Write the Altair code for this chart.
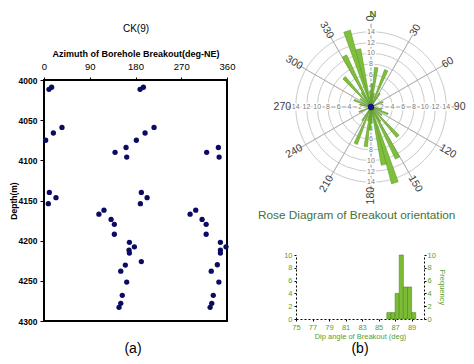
import math
import altair as alt
import pandas as pd

# ---------------- data ----------------
# (a) borehole breakout azimuth (deg from N) vs depth (m)
bo_azimuth = [9.8, 15.0, 189.0, 195.5, 3.3, 18.4, 35.4, 181.7, 198.8, 216.5,
              139.8, 161.4, 162.7, 320.0, 343.0, 344.5,
              10.5, 23.6, 8.5, 191.5, 202.8, 189.6,
              108.0, 118.0, 132.0, 138.4, 138.4, 168.0, 177.8, 167.3, 168.0, 191.5,
              160.0, 151.0, 162.7, 154.0, 151.0, 147.6,
              287.4, 298.5, 311.0, 319.0, 319.0, 347.0, 358.0, 347.0, 347.0,
              341.0, 329.0, 344.0, 333.0, 330.0, 326.8]
bo_depth = [4011.6, 4009.0, 4011.6, 4009.0, 4075.0, 4066.0, 4059.0, 4075.0, 4066.0, 4059.0,
            4090.0, 4084.0, 4096.0, 4090.0, 4084.0, 4096.0,
            4140.0, 4146.5, 4154.0, 4140.0, 4146.5, 4154.0,
            4167.0, 4162.0, 4173.5, 4179.7, 4192.0, 4202.0, 4207.6, 4211.7, 4215.4, 4226.0,
            4230.4, 4238.0, 4251.6, 4268.0, 4278.0, 4283.0,
            4167.0, 4162.0, 4173.5, 4179.7, 4192.0, 4202.0, 4207.6, 4211.7, 4215.4,
            4230.0, 4238.0, 4251.6, 4268.0, 4278.0, 4283.0]
az_ticks = [0, 90, 180, 270, 360]
depth_ticks = [4000, 4050, 4100, 4150, 4200, 4250, 4300]
az_range = [0, 360]
depth_range = [4000, 4300]

# (b) rose diagram of breakout orientation (5 deg sectors)
rose_from = [0, 5, 10, 20, 30, 65, 100, 110, 125, 135, 145, 150, 160, 165, 175,
             180, 185, 190, 200, 210, 245, 280, 290, 305, 315, 325, 330, 340, 345, 355]
rose_to = [5, 10, 15, 25, 35, 70, 105, 115, 130, 140, 150, 155, 165, 170, 180,
           185, 190, 195, 205, 215, 250, 285, 295, 310, 320, 330, 335, 345, 350, 360]
rose_freq = [4.3, 7.4, 2.6, 7.4, 3.0, 2.4, 2.0, 3.4, 2.5, 7.4, 3.2, 10.7, 14.8, 11.0, 3.0,
             4.3, 7.4, 2.6, 7.4, 3.0, 2.4, 2.0, 3.4, 2.5, 7.4, 3.2, 10.7, 14.8, 11.0, 3.0]
ring_values = [2, 4, 6, 8, 10, 12, 14]
spoke_angles = [0, 30, 60, 90, 120, 150, 180, 210, 240, 270, 300, 330]
radial_axis_angles = [0, 90, 180, 270]

# dip angle histogram
dip_lo = [86.0, 86.5, 87.0, 87.5, 88.0, 88.5, 89.0]
dip_hi = [86.5, 87.0, 87.5, 88.0, 88.5, 89.0, 89.5]
dip_count = [1, 1, 4, 10, 5, 5, 1]
dip_ticks = [75, 77, 79, 81, 83, 85, 87, 89]
freq_ticks = [0, 2, 4, 6, 8, 10]

# ---------------- layout / style ----------------
W, H = 458, 348
FONT = "Liberation Sans"
GREEN_TXT = "#55a032"

# ---- panel (a) ----
sx = alt.Scale(domain=az_range, range=[36, 219], nice=False, zero=False)
sy = alt.Scale(domain=depth_range, range=[72, 313], nice=False, zero=False)
ax_top = alt.Axis(orient="top", offset=-72, values=az_ticks, format="d",
                  title="Azimuth of Borehole Breakout(deg-NE)",
                  titleFont=FONT, titleFontSize=9, titleFontWeight="bold", titleColor="black",
                  titlePadding=3, labelFont=FONT, labelFontSize=9.5, labelColor="black",
                  labelPadding=6, labelFlush=False, labelOverlap=False,
                  tickSize=3, tickColor="black", domain=False, grid=False)
ax_left = alt.Axis(orient="left", offset=-36, values=depth_ticks, format="d", title="Depth(m)",
                   titleFont=FONT, titleFontSize=8.5, titleFontWeight="bold", titleColor="black",
                   titleAngle=270, titlePadding=0, labelFont=FONT, labelFontSize=8.5,
                   labelFontWeight="bold", labelColor="black", labelPadding=3,
                   labelOverlap=False, tickSize=4, tickColor="black", domain=False, grid=False)

pts_df = pd.DataFrame({"az": bo_azimuth, "depth": bo_depth})
frame_df = pd.DataFrame({"a0": [az_range[0]], "a1": [az_range[1]],
                         "d0": [depth_range[0]], "d1": [depth_range[1]]})

pts = alt.Chart(pts_df).mark_circle(size=28, color="#0b0b63", opacity=1).encode(
    x=alt.X("az:Q", scale=sx, axis=ax_top),
    y=alt.Y("depth:Q", scale=sy, axis=ax_left),
)
frame = alt.Chart(frame_df).mark_rect(fill="transparent", stroke="black", strokeWidth=2).encode(
    x=alt.X("a0:Q", scale=sx, axis=ax_top), x2="a1:Q",
    y=alt.Y("d0:Q", scale=sy, axis=ax_left), y2="d1:Q",
)
panel_a = alt.layer(frame, pts)

# ---- rose diagram ----
CX, CY = 363, 99
rth = alt.Scale(domain=[0, 360], range=[0, 2 * math.pi])
rrs = alt.Scale(type="linear", domain=[0, 16], range=[0, 86], nice=False, zero=True)
TWO_PI = 2 * math.pi


def rad(field):
    return alt.Radius(field, scale=rrs, stack=None)


def ang(field):
    return alt.Theta(field, scale=rth, stack=None)


ring_df = pd.DataFrame({"r": ring_values})
rings = alt.Chart(ring_df).mark_arc(filled=False, stroke="#bdbdbd", strokeWidth=0.8).encode(
    theta=alt.value(0), theta2=alt.value(TWO_PI),
    radius=rad("r:Q"),
    x=alt.value(CX), y=alt.value(CY),
)

spoke_df = pd.DataFrame({"a": spoke_angles})
spoke_df["a2"] = spoke_df["a"] + 0.02
spoke_df["len"] = 15.5
spokes = alt.Chart(spoke_df).mark_arc(filled=False, stroke="#b0b0b0", strokeWidth=0.8).encode(
    theta=ang("a:Q"), theta2="a2:Q",
    radius=rad("len:Q"),
    x=alt.value(CX), y=alt.value(CY),
)

rl_rows = [{"a": a, "r": r, "t": str(r)} for a in radial_axis_angles for r in ring_values]
rl_df = pd.DataFrame(rl_rows)
halo = alt.Chart(rl_df).mark_text(font=FONT, fontSize=7, color="white", stroke="white",
                                  strokeWidth=3).encode(
    theta=ang("a:Q"), radius=rad("r:Q"),
    text="t:N", x=alt.value(CX), y=alt.value(CY),
)
rlabels = alt.Chart(rl_df).mark_text(font=FONT, fontSize=7, color="#7a7a7a").encode(
    theta=ang("a:Q"), radius=rad("r:Q"),
    text="t:N", x=alt.value(CX), y=alt.value(CY),
)

al_df = pd.DataFrame({"a": spoke_angles})
al_df["t"] = al_df["a"].astype(str)
al_df["rot"] = [((a - 90) if a < 180 else (a - 270)) % 360 for a in spoke_angles]
al_df["r"] = 16.5
alabels = alt.Chart(al_df).mark_text(font=FONT, fontSize=10.5, color="#3a3a3a").encode(
    theta=ang("a:Q"), radius=rad("r:Q"),
    text="t:N", angle=alt.Angle("rot:Q", scale=None),
    x=alt.value(CX), y=alt.value(CY),
)

rose_df = pd.DataFrame({"a0": rose_from, "a1": rose_to, "f": rose_freq})
rose = alt.Chart(rose_df).mark_arc(fill="#80bf3c", stroke="#5c9a2a", strokeWidth=0.6).encode(
    theta=ang("a0:Q"), theta2="a1:Q",
    radius=rad("f:Q"),
    x=alt.value(CX), y=alt.value(CY),
)

dot = alt.Chart(pd.DataFrame({"k": [0]})).mark_arc(fill="#16168a").encode(
    theta=alt.value(0), theta2=alt.value(TWO_PI), radius=alt.value(3.2),
    x=alt.value(CX), y=alt.value(CY),
)

# ---- dip histogram ----
hx = alt.Scale(domain=[75, 90.5], range=[288, 416], nice=False, zero=False)
hy = alt.Scale(domain=[0, 10], range=[311, 247], nice=False, zero=True)
hist_df = pd.DataFrame({"lo": dip_lo, "hi": dip_hi, "n": dip_count})

ax_hb = alt.Axis(orient="bottom", offset=-(H - 311), values=dip_ticks,
                 title="Dip angle of Breakout (deg)", titleFont=FONT, titleFontSize=7.5,
                 titleFontWeight="normal", titleColor=GREEN_TXT, titlePadding=2,
                 labelFont=FONT, labelFontSize=7.5, labelColor=GREEN_TXT, labelPadding=2,
                 labelFlush=False, labelOverlap=False, tickSize=2, tickColor="black",
                 domainColor="black", domainDash=[2, 2], domainWidth=1, grid=False)
ax_hl = alt.Axis(orient="left", offset=-288, values=freq_ticks, title=None,
                 labelFont=FONT, labelFontSize=7.5, labelColor=GREEN_TXT, labelPadding=2,
                 labelOverlap=False, tickSize=2, tickColor="black",
                 domainColor="black", domainDash=[2, 2], domainWidth=1, grid=False)
ax_hr = alt.Axis(orient="right", offset=-(W - 416), values=freq_ticks, title="Frequency",
                 titleFont=FONT, titleFontSize=7.5, titleFontWeight="normal",
                 titleColor=GREEN_TXT, titleAngle=90, titlePadding=2,
                 labelFont=FONT, labelFontSize=7.5, labelColor=GREEN_TXT, labelPadding=1,
                 labelOverlap=False, tickSize=2, tickColor="black",
                 domainColor="black", domainDash=[2, 2], domainWidth=1, grid=False)

hist = alt.Chart(hist_df).mark_bar(fill="#7bbb35", stroke="#4e8a22", strokeWidth=0.6).encode(
    x=alt.X("lo:Q", scale=hx, axis=ax_hb), x2="hi:Q",
    y=alt.Y("n:Q", scale=hy, axis=ax_hl), y2=alt.datum(0),
)
hist_right = alt.Chart(hist_df).mark_point(opacity=0).encode(
    y=alt.Y("n:Q", scale=alt.Scale(domain=[0, 10], range=[311, 247], nice=False, zero=True),
            axis=ax_hr),
)


# ---- text annotations ----
def label(text, x, y, size, color="black", weight="normal", align="center", baseline="middle"):
    return alt.Chart(pd.DataFrame({"t": [text]})).mark_text(
        font=FONT, fontSize=size, color=color, fontWeight=weight, align=align, baseline=baseline
    ).encode(text="t:N", x=alt.value(x), y=alt.value(y))


texts = [
    label("CK(9)", 128, 21, 10),
    label("(a)", 125, 341, 14),
    label("(b)", 352, 341, 14),
    label("Rose Diagram of Breakout orientation", 250, 207, 11.8, color="#44703c", align="left"),
    label("N", 365, 1, 9.5, color="#3c7d27", weight="bold", baseline="top"),
]

chart = alt.layer(panel_a, rings, spokes, halo, rlabels, alabels, rose, dot,
                  hist, hist_right, *texts).resolve_scale(
    x="independent", y="independent"
).resolve_axis(
    x="independent", y="independent"
).properties(
    width=W, height=H, autosize=alt.AutoSizeParams(type="none"), padding=0,
    background="white"
).configure_view(stroke=None)

chart.save("out.html", embed_options={"renderer": "svg", "actions": False})
